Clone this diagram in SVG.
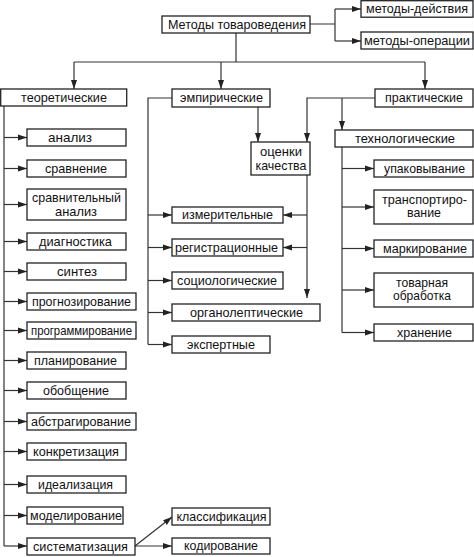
<svg xmlns="http://www.w3.org/2000/svg" width="474" height="557" viewBox="0 0 474 557">
<defs>
<marker id="ah" markerUnits="userSpaceOnUse" markerWidth="9" markerHeight="7" refX="9" refY="3.5" orient="auto">
<path d="M0,0.5 L9,3.5 L0,6.5 Z" fill="#222"/>
</marker>
<style>
rect{fill:#fff;stroke:#222;stroke-width:1.3}
text{font-family:"Liberation Sans",Arial,sans-serif;font-size:13px;fill:#111;text-anchor:middle}
#connectors path{fill:none;stroke:#333;stroke-width:1.2}
.a{marker-end:url(#ah)}
</style>
</defs>
<rect x="0" y="0" width="474" height="557" style="fill:#fff;stroke:none"/>
<g id="connectors">
<path d="M310,24 H335 M335,9 V41"/>
<path class="a" d="M335,9 H361"/>
<path class="a" d="M335,41 H361"/>
<path d="M236,33 V62 M74,62 H425"/>
<path class="a" d="M74,62 V89"/>
<path class="a" d="M221,62 V89"/>
<path class="a" d="M425,62 V89"/>
<path d="M4,106 V546"/>
<path class="a" d="M4,137.5 H27"/>
<path class="a" d="M4,168.5 H27"/>
<path class="a" d="M4,204.5 H27"/>
<path class="a" d="M4,241.5 H27"/>
<path class="a" d="M4,271.5 H27"/>
<path class="a" d="M4,301.5 H27"/>
<path class="a" d="M4,330.5 H27"/>
<path class="a" d="M4,360.5 H27"/>
<path class="a" d="M4,390.5 H27"/>
<path class="a" d="M4,421.5 H27"/>
<path class="a" d="M4,451.5 H27"/>
<path class="a" d="M4,484.5 H27"/>
<path class="a" d="M4,515.5 H27"/>
<path class="a" d="M4,546 H27"/>
<path class="a" d="M135,546 L172,517"/>
<path class="a" d="M135,546 H172"/>
<path d="M172,98 H148 V344.5"/>
<path class="a" d="M148,215 H172"/>
<path class="a" d="M148,247.5 H172"/>
<path class="a" d="M148,280.5 H172"/>
<path class="a" d="M148,312.5 H172"/>
<path class="a" d="M148,344.5 H172"/>
<path class="a" d="M258,107 V142"/>
<path class="a" d="M375,98 H307 V142"/>
<path class="a" d="M342,98 V130"/>
<path class="a" d="M307,175 V298"/>
<path class="a" d="M307,215 H283"/>
<path class="a" d="M307,247.5 H283"/>
<path d="M342,147 V332.5"/>
<path class="a" d="M342,168.5 H374"/>
<path class="a" d="M342,207 H374"/>
<path class="a" d="M342,248.5 H374"/>
<path class="a" d="M342,290 H374"/>
<path class="a" d="M342,332.5 H374"/>
</g>
<g id="n-root"><rect x="162" y="16" width="148" height="17"/><text x="237" y="28.5" textLength="138" lengthAdjust="spacingAndGlyphs">Методы товароведения</text></g>
<g id="n-deistvia"><rect x="361" y="0.7" width="112" height="16.5"/><text x="417" y="13" textLength="102" lengthAdjust="spacingAndGlyphs">методы-действия</text></g>
<g id="n-operacii"><rect x="361" y="32" width="112" height="17"/><text x="417" y="44.5" textLength="106" lengthAdjust="spacingAndGlyphs">методы-операции</text></g>
<g id="n-teor"><rect x="0.7" y="89" width="126" height="17"/><text x="64" y="101.5" textLength="86" lengthAdjust="spacingAndGlyphs">теоретические</text></g>
<g id="n-empir"><rect x="172" y="89" width="98" height="18"/><text x="221.5" y="102" textLength="83" lengthAdjust="spacingAndGlyphs">эмпирические</text></g>
<g id="n-prakt"><rect x="375" y="89" width="98" height="18"/><text x="424" y="102" textLength="78" lengthAdjust="spacingAndGlyphs">практические</text></g>
<g id="n-analiz"><rect x="27" y="129" width="99" height="17"/><text x="70" y="141.5" textLength="44" lengthAdjust="spacingAndGlyphs">анализ</text></g>
<g id="n-sravnenie"><rect x="27" y="160" width="99" height="17"/><text x="76" y="172.5" textLength="62" lengthAdjust="spacingAndGlyphs">сравнение</text></g>
<g id="n-sravn-analiz"><rect x="27" y="189" width="99" height="31"/><text x="76.5" y="202" textLength="89" lengthAdjust="spacingAndGlyphs">сравнительный</text><text x="76" y="215.5" textLength="42" lengthAdjust="spacingAndGlyphs">анализ</text></g>
<g id="n-diagnostika"><rect x="27" y="233" width="99" height="17"/><text x="75.5" y="245.5" textLength="73" lengthAdjust="spacingAndGlyphs">диагностика</text></g>
<g id="n-sintez"><rect x="27" y="263" width="99" height="17"/><text x="77" y="275.5" textLength="40" lengthAdjust="spacingAndGlyphs">синтез</text></g>
<g id="n-prognoz"><rect x="27" y="293" width="109" height="17"/><text x="81.5" y="305.5" textLength="99" lengthAdjust="spacingAndGlyphs">прогнозирование</text></g>
<g id="n-programm"><rect x="27" y="322" width="109" height="17"/><text x="81.5" y="334.5" textLength="101" lengthAdjust="spacingAndGlyphs">программирование</text></g>
<g id="n-planir"><rect x="27" y="352" width="99" height="17"/><text x="75.5" y="364.5" textLength="83" lengthAdjust="spacingAndGlyphs">планирование</text></g>
<g id="n-obobsch"><rect x="27" y="382" width="99" height="17"/><text x="76" y="394.5" textLength="66" lengthAdjust="spacingAndGlyphs">обобщение</text></g>
<g id="n-abstr"><rect x="27" y="413" width="109" height="17"/><text x="81" y="425.5" textLength="100" lengthAdjust="spacingAndGlyphs">абстрагирование</text></g>
<g id="n-konkr"><rect x="27" y="443" width="99" height="17"/><text x="76" y="455.5" textLength="86" lengthAdjust="spacingAndGlyphs">конкретизация</text></g>
<g id="n-ideal"><rect x="27" y="476" width="99" height="17"/><text x="75.5" y="488.5" textLength="75" lengthAdjust="spacingAndGlyphs">идеализация</text></g>
<g id="n-model"><rect x="27" y="507" width="96" height="17"/><text x="76" y="519.5" textLength="92" lengthAdjust="spacingAndGlyphs">моделирование</text></g>
<g id="n-sistem"><rect x="27" y="538" width="108" height="17"/><text x="80.5" y="550.5" textLength="95" lengthAdjust="spacingAndGlyphs">систематизация</text></g>
<g id="n-klassif"><rect x="172" y="508" width="98" height="17"/><text x="221.5" y="520.5" textLength="90" lengthAdjust="spacingAndGlyphs">классификация</text></g>
<g id="n-kodir"><rect x="172" y="538" width="98" height="16"/><text x="221" y="550" textLength="74" lengthAdjust="spacingAndGlyphs">кодирование</text></g>
<g id="n-ocenki"><rect x="251" y="142" width="59" height="33"/><text x="281" y="156" textLength="42" lengthAdjust="spacingAndGlyphs">оценки</text><text x="281" y="169.5" textLength="51" lengthAdjust="spacingAndGlyphs">качества</text></g>
<g id="n-izmer"><rect x="172" y="207" width="111" height="16"/><text x="227.5" y="219" textLength="91" lengthAdjust="spacingAndGlyphs">измерительные</text></g>
<g id="n-registr"><rect x="172" y="239" width="111" height="17"/><text x="226.5" y="251.5" textLength="103" lengthAdjust="spacingAndGlyphs">регистрационные</text></g>
<g id="n-sociol"><rect x="172" y="272" width="111" height="17"/><text x="227" y="284.5" textLength="100" lengthAdjust="spacingAndGlyphs">социологические</text></g>
<g id="n-organol"><rect x="172" y="304" width="148" height="17"/><text x="246.5" y="316.5" textLength="113" lengthAdjust="spacingAndGlyphs">органолептические</text></g>
<g id="n-expert"><rect x="172" y="336" width="98" height="17"/><text x="221" y="348.5" textLength="68" lengthAdjust="spacingAndGlyphs">экспертные</text></g>
<g id="n-tehnol"><rect x="335" y="130" width="138" height="17"/><text x="405" y="142.5" textLength="100" lengthAdjust="spacingAndGlyphs">технологические</text></g>
<g id="n-upak"><rect x="374" y="160" width="99" height="17"/><text x="424.5" y="172.5" textLength="81" lengthAdjust="spacingAndGlyphs">упаковывание</text></g>
<g id="n-transp"><rect x="374" y="190" width="99" height="34"/><text x="424.5" y="203.5" textLength="85" lengthAdjust="spacingAndGlyphs">транспортиро-</text><text x="424" y="217" textLength="34" lengthAdjust="spacingAndGlyphs">вание</text></g>
<g id="n-mark"><rect x="374" y="240" width="99" height="17"/><text x="425" y="252.5" textLength="84" lengthAdjust="spacingAndGlyphs">маркирование</text></g>
<g id="n-tovar"><rect x="374" y="273" width="99" height="34"/><text x="422" y="286.5" textLength="52" lengthAdjust="spacingAndGlyphs">товарная</text><text x="422" y="300" textLength="58" lengthAdjust="spacingAndGlyphs">обработка</text></g>
<g id="n-hran"><rect x="374" y="324" width="99" height="17"/><text x="424.5" y="336.5" textLength="55" lengthAdjust="spacingAndGlyphs">хранение</text></g>
</svg>
